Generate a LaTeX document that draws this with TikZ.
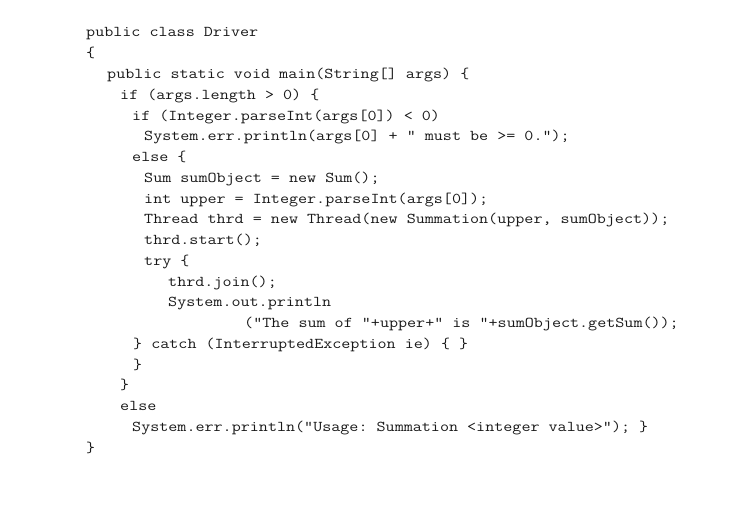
\documentclass[tikz,border=0pt]{standalone}
\usepackage{fontspec}
\setmonofont[FakeStretch=1.172]{Latin Modern Mono}
\frenchspacing
\begin{document}
\begin{tikzpicture}[x=1pt,y=-1pt,
  codeline/.style={anchor=base west, inner sep=0pt, font=\ttfamily\fontsize{15}{18}\selectfont\frenchspacing, text=black!90}]
\useasboundingbox (0,0) rectangle (732,514);
\node[codeline] (l1)  at (86,37)      {public class Driver};
\node[codeline] (l2)  at (86,57.75)   {\{};
\node[codeline] (l3)  at (107,78.5)   {public static void main(String[] args) \{};
\node[codeline] (l4)  at (120,99.25)  {if (args.length > 0) \{};
\node[codeline] (l5)  at (132,120)    {if (Integer.parseInt(args[0]) < 0)};
\node[codeline] (l6)  at (144,140.75) {System.err.println(args[0] + " must be >= 0.");};
\node[codeline] (l7)  at (132,161.5)  {else \{};
\node[codeline] (l8)  at (144,182.25) {Sum sumObject = new Sum();};
\node[codeline] (l9)  at (144,203)    {int upper = Integer.parseInt(args[0]);};
\node[codeline] (l10) at (144,223.75) {Thread thrd = new Thread(new Summation(upper, sumObject));};
\node[codeline] (l11) at (144,244.5)  {thrd.start();};
\node[codeline] (l12) at (144,265.25) {try \{};
\node[codeline] (l13) at (168,286)    {thrd.join();};
\node[codeline] (l14) at (168,306.75) {System.out.println};
\node[codeline] (l15) at (244,327.5)  {("The sum of "+upper+" is "+sumObject.getSum());};
\node[codeline] (l16) at (133,348.25) {\} catch (InterruptedException ie) \{ \}};
\node[codeline] (l17) at (133,369)    {\}};
\node[codeline] (l18) at (120,389.75) {\}};
\node[codeline] (l19) at (120,410.5)  {else};
\node[codeline] (l20) at (132,431.25) {System.err.println("Usage: Summation <integer value>"); \}};
\node[codeline] (l21) at (86,452)     {\}};
\end{tikzpicture}
\end{document}
